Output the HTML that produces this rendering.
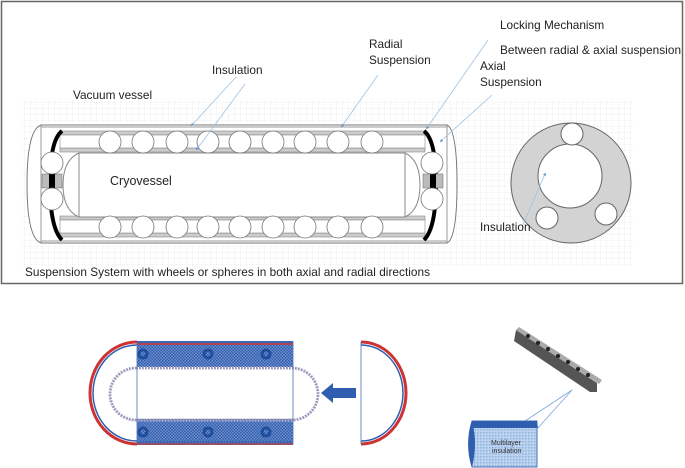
<!DOCTYPE html>
<html><head><meta charset="utf-8"><style>
html,body{margin:0;padding:0;background:#fff;}
svg{display:block;font-family:"Liberation Sans",sans-serif;}
</style></head><body>
<svg width="685" height="468" viewBox="0 0 685 468" xmlns="http://www.w3.org/2000/svg">
<defs>
<pattern id="grid" width="6" height="6" patternUnits="userSpaceOnUse">
<path d="M6 0H0V6" fill="none" stroke="#e6e6e6" stroke-width="0.6"/>
</pattern>
<pattern id="hatch" width="3" height="3" patternUnits="userSpaceOnUse">
<rect width="3" height="3" fill="#6f8fc8"/>
<rect width="1.5" height="1.5" fill="#2f5eb0"/>
<rect x="1.5" y="1.5" width="1.5" height="1.5" fill="#2f5eb0"/>
</pattern>
<pattern id="lhatch" width="3" height="3" patternUnits="userSpaceOnUse">
<rect width="3" height="3" fill="#bcd3ef"/>
<rect width="1.5" height="1.5" fill="#8fb2e0"/>
</pattern>
<marker id="ar" markerWidth="4" markerHeight="4" refX="2" refY="2" orient="auto"><path d="M0 0L4 2L0 4z" fill="#5b9bd5"/></marker>
</defs>
<rect x="1.5" y="1.5" width="681" height="282" fill="#fff" stroke="#666" stroke-width="1.5"/>
<rect x="22" y="100" width="611" height="167" fill="url(#grid)"/>
<path d="M41 125 H447 Q457 130 457 184 Q457 238 447 243 H41 Q27 238 27 184 Q27 130 41 125Z" fill="#fff" stroke="#777" stroke-width="1"/>
<line x1="41" y1="125" x2="41" y2="243" stroke="#888"/>
<line x1="447" y1="125" x2="447" y2="243" stroke="#888"/>
<rect x="41" y="127" width="406" height="114" fill="none" stroke="#999"/>
<g fill="#ccc" stroke="#888" stroke-width="0.6">
<rect x="60" y="131" width="365" height="4"/><rect x="60" y="148" width="365" height="4"/>
<rect x="60" y="216" width="365" height="4"/><rect x="60" y="233" width="365" height="4"/>
</g>
<g fill="#fff" stroke="#888" stroke-width="0.6">
<rect x="60" y="135" width="365" height="13"/><rect x="60" y="220" width="365" height="13"/>
</g>
<path d="M79 153 H405 Q420 160 420 185 Q420 210 405 217 H79 Q63 210 63 185 Q63 160 79 153Z" fill="#fff" stroke="#888"/>
<line x1="79" y1="153" x2="79" y2="217" stroke="#888"/>
<line x1="405" y1="153" x2="405" y2="217" stroke="#888"/>
<g fill="#fff" stroke="#777" stroke-width="0.8">
<circle cx="110" cy="142" r="11"/><circle cx="143" cy="142" r="11"/><circle cx="177" cy="142" r="11"/><circle cx="208" cy="142" r="11"/><circle cx="240" cy="142" r="11"/><circle cx="273" cy="142" r="11"/><circle cx="305" cy="142" r="11"/><circle cx="338" cy="142" r="11"/><circle cx="372" cy="142" r="11"/>
<circle cx="110" cy="227" r="11"/><circle cx="143" cy="227" r="11"/><circle cx="177" cy="227" r="11"/><circle cx="208" cy="227" r="11"/><circle cx="240" cy="227" r="11"/><circle cx="273" cy="227" r="11"/><circle cx="305" cy="227" r="11"/><circle cx="338" cy="227" r="11"/><circle cx="372" cy="227" r="11"/>
</g>
<path d="M62 131 Q50 140 50 184 Q50 228 62 240" fill="none" stroke="#000" stroke-width="4"/>
<path d="M424 131 Q436 140 436 184 Q436 228 424 240" fill="none" stroke="#000" stroke-width="4"/>
<rect x="42" y="174" width="20" height="14" fill="#bbb" stroke="#777" stroke-width="0.6"/>
<rect x="423" y="174" width="20" height="14" fill="#bbb" stroke="#777" stroke-width="0.6"/>
<rect x="49" y="174" width="6" height="14" fill="#000"/><rect x="430" y="174" width="6" height="14" fill="#000"/>
<g fill="#fff" stroke="#777" stroke-width="0.8">
<circle cx="52" cy="163" r="11"/><circle cx="52" cy="199" r="11"/>
<circle cx="432" cy="163" r="11"/><circle cx="432" cy="199" r="11"/>
</g>
<circle cx="571" cy="183" r="60" fill="#d3d3d3" stroke="#666"/>
<circle cx="570" cy="176" r="32" fill="#fff" stroke="#666"/>
<g fill="#fff" stroke="#666"><circle cx="572" cy="134" r="11"/><circle cx="547" cy="218" r="11"/><circle cx="606" cy="214" r="11"/></g>
<g stroke="#9cc3e6" stroke-width="0.8" marker-end="url(#ar)">
<line x1="236" y1="77" x2="192" y2="125"/>
<line x1="245" y1="84" x2="197" y2="149"/>
<line x1="378" y1="75" x2="342" y2="126"/>
<line x1="488" y1="40" x2="427" y2="128"/>
<line x1="492" y1="95" x2="441" y2="141"/>
<line x1="522" y1="227" x2="545" y2="174"/>
</g>
<g font-size="11.8" fill="#222">
<text x="73" y="99">Vacuum vessel</text>
<text x="212" y="74">Insulation</text>
<text x="369" y="48">Radial</text><text x="369" y="64">Suspension</text>
<text x="500" y="29">Locking Mechanism</text>
<text x="500" y="54" textLength="181">Between radial &amp; axial suspension</text>
<text x="480" y="70">Axial</text><text x="480" y="86">Suspension</text>
<text x="110" y="185" font-size="12.5">Cryovessel</text>
<text x="480" y="231">Insulation</text>
<text x="25" y="276" textLength="405">Suspension System with wheels or spheres in both axial and radial directions</text>
</g>
<rect x="137" y="342" width="156" height="25" fill="url(#hatch)"/>
<rect x="137" y="419" width="156" height="25" fill="url(#hatch)"/>
<path d="M137 342 A47 51 0 0 0 137 444" fill="none" stroke="#c33" stroke-width="3"/>
<path d="M137 345 A44 48 0 0 0 137 441" fill="none" stroke="#2f5eb0" stroke-width="1.5"/>
<line x1="137" y1="342" x2="293" y2="342" stroke="#2f5eb0" stroke-width="2"/>
<line x1="137" y1="344" x2="293" y2="344" stroke="#c33" stroke-width="1.5"/>
<line x1="137" y1="444" x2="293" y2="444" stroke="#c33" stroke-width="2"/>
<line x1="137" y1="442" x2="293" y2="442" stroke="#2f5eb0" stroke-width="1"/>
<path d="M136 368 H292 A26 26 0 0 1 292 420 H136 A26 26 0 0 1 136 368Z" fill="none" stroke="#9ab0d8" stroke-width="3" stroke-dasharray="2 1"/>
<path d="M136 368 H292 A26 26 0 0 1 292 420 H136 A26 26 0 0 1 136 368Z" fill="none" stroke="#d55" stroke-width="1" stroke-dasharray="1 2"/>
<rect x="137" y="342" width="156" height="102" fill="none" stroke="#4a72b8" stroke-width="0.8"/>
<g fill="none" stroke="#1f4e9e" stroke-width="3">
<circle cx="143" cy="354" r="4"/><circle cx="208" cy="354" r="4"/><circle cx="266" cy="354" r="4"/>
<circle cx="143" cy="432" r="4"/><circle cx="208" cy="432" r="4"/><circle cx="266" cy="432" r="4"/>
</g>
<path d="M321 393 L333 383 V388 H356 V398 H333 V403Z" fill="#2f5eb0"/>
<path d="M361 342 A45 51 0 0 1 361 444" fill="none" stroke="#c33" stroke-width="3"/>
<path d="M361 345 A42 48 0 0 1 361 441" fill="none" stroke="#2f5eb0" stroke-width="1.5"/>
<line x1="361" y1="342" x2="361" y2="444" stroke="#4a72b8" stroke-width="0.8"/>
<path d="M516 330 L597 383 L597 392 L590 392 L514 341Z" fill="#555"/>
<path d="M516 330 L599 384 L602 380 L519 327Z" fill="#aaa"/>
<g fill="#222"><circle cx="528" cy="336" r="2"/><circle cx="538" cy="343" r="2"/><circle cx="548" cy="349" r="2"/><circle cx="558" cy="356" r="2"/><circle cx="568" cy="362" r="2"/><circle cx="578" cy="369" r="2"/><circle cx="588" cy="375" r="2"/></g>
<line x1="572" y1="390" x2="525" y2="421" stroke="#7aa6dc" stroke-width="0.8"/>
<line x1="572" y1="390" x2="538" y2="428" stroke="#7aa6dc" stroke-width="0.8"/>
<path d="M472 421 H537 V467 H472 Q465 444 472 421Z" fill="url(#lhatch)" stroke="#4a72b8"/>
<path d="M472 421 H537 L538 428 H472Z" fill="#2f5eb0"/>
<path d="M472 421 Q465 444 472 467 Q478 444 472 421Z" fill="#2f5eb0"/>
<text x="491" y="445" font-size="7" fill="#333">Multilayer</text>
<text x="492" y="453" font-size="7" fill="#333">insulation</text>
</svg>
</body></html>
